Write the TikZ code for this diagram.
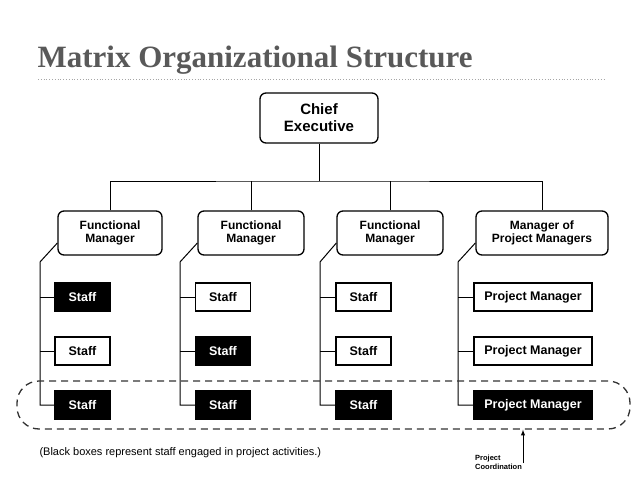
\documentclass[tikz,border=0pt]{standalone}
\usepackage{fontspec}
\setmainfont{Liberation Serif}
\newfontfamily\hv{Liberation Sans}
\begin{document}
\begin{tikzpicture}[x=1pt,y=-1pt,
 mgr/.style={draw,line width=1.3pt,rounded corners=6pt,align=center,font=\hv\bfseries\fontsize{12}{13}\selectfont,inner sep=0pt},
 wbox/.style={draw,line width=1.2pt,font=\hv\bfseries\fontsize{12.5}{13}\selectfont,inner sep=0pt},
 bbox/.style={wbox,fill=black,text=white},
 ln/.style={line width=1pt}]
\useasboundingbox (0,0) rectangle (638,479);
\fill[white] (0,0) rectangle (638,479);
\node[anchor=west,font=\bfseries\fontsize{31}{33}\selectfont,text=black!65] (title) at (34,60) {Matrix Organizational Structure};
\draw[black!35,dotted,line width=0.8pt] (38,79) -- (606,79);
\node[mgr,minimum width=118,minimum height=50,font=\hv\bfseries\fontsize{15}{17}\selectfont] (ce) at (319,118) {Chief\\Executive};
\foreach \n/\x/\w/\t in {f1/110/104/Functional\\Manager, f2/251/106/Functional\\Manager, f3/390/106/Functional\\Manager, f4/542/132/Manager of\\Project Managers}{
 \node[mgr,minimum width=\w,minimum height=44] (\n) at (\x,233) {\t};
}
\coordinate (h) at (319,181);
\draw[ln] (ce.south) -- (h);
\draw[ln] (f1.north) |- (h) -| (f4.north);
\draw[ln] (f2.north) -- (f2.north|-h);
\draw[ln] (f3.north) -- (f3.north|-h);
\foreach \n/\x/\y/\s in {s1a/82.5/297/bbox, s1b/82.5/351/wbox, s1c/82.5/405/bbox,
  s2a/223/297/wbox, s2b/223/351/bbox, s2c/223/405/bbox,
  s3a/363.5/297/wbox, s3b/363.5/351/wbox, s3c/363.5/405/bbox}{
  \node[\s,minimum width=55,minimum height=28] (\n) at (\x,\y) {Staff};
}
\foreach \n/\y/\s in {s4a/297/wbox, s4b/351/wbox, s4c/405/bbox}{
 \node[\s,minimum width=118,minimum height=28] (\n) at (533,\y) {Project Manager};
}
\foreach \c/\f/\lx in {1/f1/40,2/f2/180,3/f3/320,4/f4/458}{
 \coordinate (t\c) at (\lx,262);
 \draw[ln] ([yshift=-10]\f.west) -- (t\c) |- (s\c c.west);
 \draw[ln] (t\c|-s\c a) -- (s\c a.west);
 \draw[ln] (t\c|-s\c b) -- (s\c b.west);
}
\node[draw,line width=1.3pt,dash pattern=on 7pt off 5pt,rounded corners=22pt,minimum width=613,minimum height=48,black!80] (dz) at (323.5,405) {};
\node[anchor=west,font=\hv\fontsize{11}{13}\selectfont] (cap) at (36,453) {(Black boxes represent staff engaged in project activities.)};
\node[anchor=north west,align=left,font=\hv\bfseries\fontsize{7.5}{9}\selectfont,inner sep=0pt] (pc) at (475,455) {Project\\Coordination};
\coordinate (ab) at (523,463);
\draw[ln,-latex] (ab) -- (dz.south-|ab);
\end{tikzpicture}
\end{document}
